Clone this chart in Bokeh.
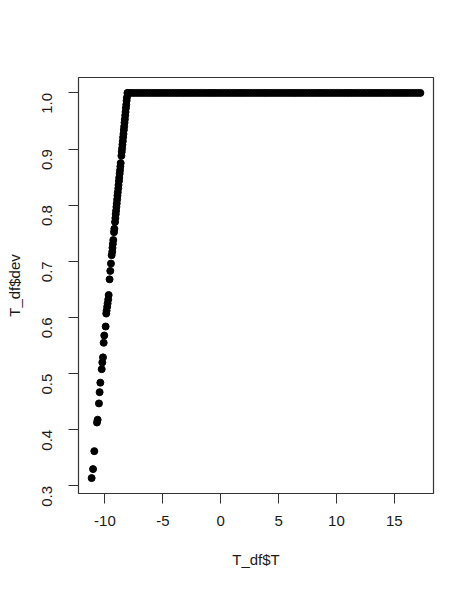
import math
from bokeh.plotting import figure
from bokeh.models import Range1d, FixedTicker
from bokeh.embed import file_html
from bokeh.resources import INLINE

# Valores: parte inclinada (T < -8)
T_rise = [-11.15, -11.03, -10.92, -10.69, -10.63, -10.52, -10.46, -10.40, -10.28, -10.23,
          -10.17, -10.11, -10.06, -9.94, -9.89, -9.86, -9.81, -9.77, -9.72, -9.68,
          -9.60, -9.54, -9.48, -9.42, -9.37,
          -9.35, -9.32, -9.28, -9.22, -9.19, -9.13, -9.10, -9.07, -9.04, -9.01,
          -8.98, -8.95, -8.92, -8.89, -8.85, -8.83, -8.79, -8.77, -8.73, -8.70,
          -8.67, -8.64, -8.58, -8.55, -8.52, -8.49, -8.46, -8.43, -8.40, -8.37,
          -8.34, -8.31, -8.28, -8.25, -8.22, -8.19, -8.16, -8.13, -8.10, -8.06]
dev_rise = [0.314, 0.330, 0.362, 0.413, 0.418, 0.447, 0.467, 0.484, 0.508, 0.520,
            0.529, 0.555, 0.568, 0.584, 0.607, 0.612, 0.619, 0.625, 0.632, 0.640,
            0.668, 0.683, 0.696, 0.711, 0.717,
            0.724, 0.731, 0.738, 0.752, 0.758, 0.770, 0.777, 0.784, 0.790, 0.797,
            0.803, 0.810, 0.817, 0.823, 0.830, 0.836, 0.843, 0.849, 0.856, 0.862,
            0.869, 0.875, 0.888, 0.895, 0.901, 0.908, 0.914, 0.921, 0.927, 0.934,
            0.940, 0.947, 0.953, 0.960, 0.966, 0.973, 0.979, 0.986, 0.992, 1.0]

# Parte plana (dev = 1)
T_flat = [-8.0, -7.75, -7.5, -7.25, -7.0, -6.75, -6.5, -6.25, -6.0, -5.75, -5.5, -5.25,
          -5.0, -4.75, -4.5, -4.25, -4.0, -3.75, -3.5, -3.25, -3.0, -2.75, -2.5, -2.25,
          -2.0, -1.75, -1.5, -1.25, -1.0, -0.75, -0.5, -0.25, 0.0, 0.25, 0.5, 0.75,
          1.0, 1.25, 1.5, 1.75, 2.0, 2.25, 2.5, 2.75, 3.0, 3.25, 3.5, 3.75,
          4.0, 4.25, 4.5, 4.75, 5.0, 5.25, 5.5, 5.75, 6.0, 6.25, 6.5, 6.75,
          7.0, 7.25, 7.5, 7.75, 8.0, 8.25, 8.5, 8.75, 9.0, 9.25, 9.5, 9.75,
          10.0, 10.25, 10.5, 10.75, 11.0, 11.25, 11.5, 11.75, 12.0, 12.25, 12.5, 12.75,
          13.0, 13.25, 13.5, 13.75, 14.0, 14.25, 14.5, 14.75, 15.0, 15.25, 15.5, 15.75,
          16.0, 16.25, 16.5, 16.75, 17.0, 17.25]
dev_flat = [1.0] * len(T_flat)

# Ticks
x_ticks = [-10, -5, 0, 5, 10, 15]
x_tick_labels = ["-10", "-5", "0", "5", "10", "15"]
y_ticks = [0.3, 0.4, 0.5, 0.6, 0.7, 0.8, 0.9, 1.0]
y_tick_labels = ["0.3", "0.4", "0.5", "0.6", "0.7", "0.8", "0.9", "1.0"]

T_all = T_rise + T_flat
dev_all = dev_rise + dev_flat

# Faixas como no R (4% de folga)
def pad(vals):
    lo, hi = min(vals), max(vals)
    d = (hi - lo) * 0.04
    return Range1d(lo - d, hi + d)

FONT = "Liberation Sans"
TXT = "#1a1a1a"

p = figure(frame_width=355, frame_height=416, output_backend="svg", toolbar_location=None,
           x_range=pad(T_all), y_range=pad(dev_all),
           min_border_left=78, min_border_top=77, min_border_right=25, min_border_bottom=80)
p.background_fill_color = "white"
p.border_fill_color = "white"
p.outline_line_color = "#333333"
p.outline_line_width = 1.2
p.grid.grid_line_color = None

p.scatter(T_all, dev_all, size=7, color="black")

# Eixos
for ax in (p.xaxis, p.yaxis):
    ax.axis_line_color = None
    ax.major_tick_line_color = "#333333"
    ax.major_tick_out = 10
    ax.major_tick_in = 0
    ax.minor_tick_line_color = None
    ax.major_label_text_font = FONT
    ax.major_label_text_font_size = "15px"
    ax.major_label_text_color = TXT
    ax.axis_label_text_font = FONT
    ax.axis_label_text_font_size = "15px"
    ax.axis_label_text_font_style = "normal"
    ax.axis_label_text_color = TXT

p.xaxis.ticker = FixedTicker(ticks=x_ticks)
p.xaxis.major_label_overrides = {t: s for t, s in zip(x_ticks, x_tick_labels)}
p.xaxis.axis_label = "T_df$T"
p.xaxis.major_label_standoff = 12
p.xaxis.axis_label_standoff = 22

p.yaxis.ticker = FixedTicker(ticks=y_ticks)
p.yaxis.major_label_overrides = {t: s for t, s in zip(y_ticks, y_tick_labels)}
p.yaxis.major_label_orientation = math.pi / 2
p.yaxis.axis_label = "T_df$dev"
p.yaxis.major_label_standoff = 21
p.yaxis.axis_label_standoff = 12

open("out.html", "w").write(file_html(p, INLINE))
